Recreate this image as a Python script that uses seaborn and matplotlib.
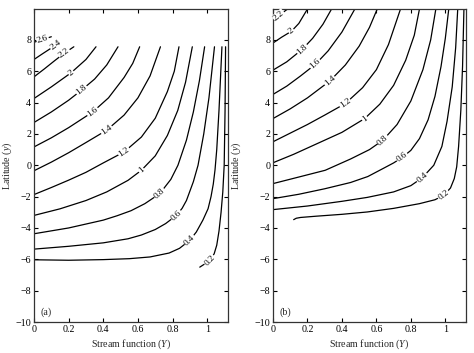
import numpy as np
import pandas as pd
import matplotlib
matplotlib.use("Agg")
import matplotlib.pyplot as plt
from matplotlib.ticker import FuncFormatter
import seaborn as sns

# ---------------- data ----------------
# Panel (a): contour lines, one x-list and one y-list per level
a_levels = [2.6, 2.4, 2.2, 2.0, 1.8, 1.6, 1.4, 1.2, 1.0, 0.8, 0.6, 0.4, 0.2]
a_x = [
    [0, 0.05, 0.1],
    [0, 0.05, 0.1, 0.14],
    [0, 0.06, 0.12, 0.175, 0.23],
    [0, 0.1, 0.214, 0.3, 0.358],
    [0, 0.1, 0.2, 0.275, 0.35, 0.42, 0.485],
    [0, 0.1, 0.2, 0.339, 0.43, 0.52, 0.57, 0.61],
    [0, 0.1, 0.2, 0.3, 0.42, 0.52, 0.6, 0.67, 0.73],
    [0, 0.1, 0.2, 0.3, 0.4, 0.52, 0.62, 0.7, 0.77, 0.81, 0.837],
    [0, 0.15, 0.3, 0.42, 0.543, 0.62, 0.7, 0.77, 0.83, 0.875, 0.914],
    [0, 0.2, 0.4, 0.48, 0.56, 0.64, 0.726, 0.79, 0.831, 0.88, 0.92, 0.955, 0.985],
    [0, 0.2, 0.4, 0.543, 0.62, 0.7, 0.76, 0.822, 0.855, 0.88, 0.92, 0.947, 0.98,
     1.01, 1.042],
    [0, 0.2, 0.4, 0.55, 0.67, 0.78, 0.84, 0.899, 0.937, 0.975, 1.005, 1.022,
     1.035, 1.045, 1.055, 1.068, 1.085],
    [0.957, 0.985, 1.014, 1.04, 1.055, 1.068, 1.08, 1.09, 1.098, 1.103, 1.106],
]
a_y = [
    [7.85, 8.02, 8.2],
    [6.75, 7.12, 7.48, 7.82],
    [5.64, 6.15, 6.68, 7.15, 7.56],
    [4.26, 5.0, 5.9, 6.75, 7.56],
    [2.73, 3.4, 4.15, 4.8, 5.5, 6.4, 7.56],
    [1.17, 1.75, 2.4, 3.4, 4.3, 5.6, 6.5, 7.56],
    [-0.35, 0.2, 0.8, 1.45, 2.24, 3.2, 4.3, 5.7, 7.56],
    [-1.87, -1.42, -0.95, -0.45, 0.15, 0.85, 1.8, 3.0, 4.7, 6.0, 7.56],
    [-3.2, -2.78, -2.25, -1.7, -0.96, -0.32, 0.6, 1.9, 3.5, 5.3, 7.56],
    [-4.37, -4.0, -3.5, -3.22, -2.9, -2.45, -1.81, -0.9, 0.0, 1.6, 3.4, 5.4, 7.56],
    [-5.35, -5.17, -4.95, -4.69, -4.45, -4.1, -3.72, -3.2, -2.75, -2.25, -1.05,
     0.0, 2.0, 4.3, 7.56],
    [-6.03, -6.06, -6.02, -5.96, -5.85, -5.6, -5.3, -4.79, -4.26, -3.5, -2.77,
     -2.0, -1.2, -0.3, 1.0, 3.5, 7.56],
    [-6.5, -6.3, -6.07, -5.65, -5.1, -4.2, -3.0, -1.7, 0.0, 3.5, 7.56],
]
a_lab_x = [0.05, 0.125, 0.175, 0.214, 0.275, 0.339, 0.42, 0.52, 0.62, 0.726, 0.822, 0.899, 1.014]
a_lab_y = [8.02, 7.68, 7.15, 5.9, 4.8, 3.4, 2.24, 0.85, -0.32, -1.81, -3.2, -4.79, -6.07]

# Panel (b)
b_levels = [2.2, 2.0, 1.8, 1.6, 1.4, 1.2, 1.0, 0.8, 0.6, 0.4, 0.2]
b_x = [
    [0, 0.035, 0.07, 0.085],
    [0, 0.05, 0.107, 0.15, 0.2],
    [0, 0.08, 0.17, 0.23, 0.29, 0.34],
    [0, 0.08, 0.16, 0.247, 0.32, 0.4, 0.475],
    [0, 0.1, 0.2, 0.33, 0.42, 0.5, 0.56, 0.605],
    [0, 0.1, 0.2, 0.3, 0.42, 0.52, 0.6, 0.67, 0.74],
    [0, 0.12, 0.25, 0.4, 0.532, 0.62, 0.7, 0.77, 0.82, 0.85],
    [0, 0.15, 0.303, 0.45, 0.56, 0.638, 0.72, 0.8, 0.87, 0.915, 0.945],
    [0, 0.15, 0.3, 0.45, 0.55, 0.64, 0.7, 0.75, 0.8, 0.85, 0.9, 0.94, 0.975,
     1.0, 1.02],
    [0, 0.2, 0.4, 0.547, 0.7, 0.8, 0.866, 0.933, 0.98, 1.01, 1.04, 1.06, 1.072],
    [0.12, 0.135, 0.16, 0.25, 0.4, 0.547, 0.7, 0.85, 0.94, 0.991, 1.03, 1.052,
     1.066, 1.077, 1.09, 1.1, 1.108],
]
b_y = [
    [9.2, 9.53, 9.85, 9.97],
    [7.8, 8.17, 8.55, 9.05, 9.97],
    [6.07, 6.6, 7.4, 8.1, 9.0, 9.97],
    [4.52, 5.05, 5.7, 6.45, 7.3, 8.5, 9.97],
    [2.98, 3.6, 4.3, 5.38, 6.4, 7.6, 8.8, 9.97],
    [1.5, 2.05, 2.6, 3.2, 3.94, 4.95, 6.1, 7.7, 9.97],
    [0.16, 0.7, 1.35, 2.1, 2.98, 3.9, 5.1, 6.7, 8.3, 9.97],
    [-1.17, -0.75, -0.32, 0.4, 1.0, 1.6, 2.6, 4.1, 6.1, 8.0, 9.97],
    [-2.13, -1.85, -1.5, -1.1, -0.72, -0.2, 0.15, 0.5, 0.95, 1.7, 2.9, 4.4, 6.3,
     8.1, 9.97],
    [-2.83, -2.6, -2.3, -2.05, -1.7, -1.3, -0.8, 0.0, 1.2, 2.8, 5.0, 7.5, 9.97],
    [-3.47, -3.38, -3.33, -3.25, -3.13, -2.98, -2.75, -2.45, -2.2, -1.92, -1.45,
     -0.85, -0.1, 1.2, 3.5, 6.3, 9.97],
]
b_lab_x = [0.035, 0.107, 0.17, 0.247, 0.33, 0.42, 0.532, 0.638, 0.75, 0.866, 0.991]
b_lab_y = [9.53, 8.55, 7.4, 6.45, 5.38, 3.94, 2.98, 1.6, 0.5, -0.8, -1.92]

x_ticks = [0, 0.2, 0.4, 0.6, 0.8, 1.0]
y_ticks = [-10, -8, -6, -4, -2, 0, 2, 4, 6, 8]
panel_tags = ["(a)", "(b)"]

# ---------------- style ----------------
sns.set_style("ticks")
plt.rcParams["font.family"] = ["Liberation Serif", "DejaVu Serif"]
plt.rcParams["mathtext.fontset"] = "custom"
plt.rcParams["mathtext.rm"] = "Liberation Serif"
plt.rcParams["mathtext.it"] = "Liberation Serif:italic"
plt.rcParams["axes.unicode_minus"] = True

fig = plt.figure(figsize=(4.74, 3.53), dpi=100)
ax_a = fig.add_axes([34 / 474, 31 / 353, 194 / 474, 313 / 353])
ax_b = fig.add_axes([273 / 474, 31 / 353, 193 / 474, 313 / 353])

fmt = FuncFormatter(lambda v, p: ("%g" % v).replace("-", "\u2212"))


def draw_panel(ax, levels, xs, ys, lab_x, lab_y, tag, ylab_x):
    rows = []
    for lev, xx, yy in zip(levels, xs, ys):
        for i, (px, py) in enumerate(zip(xx, yy)):
            rows.append({"x": px, "y": py, "level": lev, "order": i})
    df = pd.DataFrame(rows)
    sns.lineplot(data=df, x="x", y="y", units="level", estimator=None,
                 sort=False, color="black", lw=0.9, ax=ax, legend=False)
    ax.set_xlim(0, 1.12)
    ax.set_ylim(-10, 9.97)
    ax.set_xticks(x_ticks)
    ax.set_yticks(y_ticks)
    ax.xaxis.set_major_formatter(fmt)
    ax.yaxis.set_major_formatter(fmt)
    ax.tick_params(direction="in", length=3, width=0.8, top=True, right=True,
                   labelsize=7.2, pad=2, colors="black")
    for s in ax.spines.values():
        s.set_visible(True)
        s.set_linewidth(0.9)
        s.set_color("#333333")
    ax.set_xlabel("Stream function ($Y$)", fontsize=7.2)
    ax.set_ylabel("Latitude ($y$)", fontsize=7.2)
    ax.xaxis.set_label_coords(0.5, -0.048)
    ax.yaxis.set_label_coords(ylab_x, 0.5)
    # inline contour labels, rotated along the line
    for lev, xx, yy, lx, ly in zip(levels, xs, ys, lab_x, lab_y):
        pts = ax.transData.transform(np.column_stack([xx, yy]))
        lp = ax.transData.transform((lx, ly))
        d = np.hypot(pts[:, 0] - lp[0], pts[:, 1] - lp[1])
        i = int(np.argmin(d))
        i0, i1 = max(i - 1, 0), min(i + 1, len(xx) - 1)
        ang = np.degrees(np.arctan2(pts[i1, 1] - pts[i0, 1], pts[i1, 0] - pts[i0, 0]))
        if ang > 90:
            ang -= 180
        if ang < -90:
            ang += 180
        ax.text(lx, ly, "%g" % lev, rotation=ang, rotation_mode="anchor",
                ha="center", va="center", fontsize=6.6, color="black",
                bbox=dict(boxstyle="square,pad=0.08", fc="white", ec="none"),
                zorder=5, clip_on=False)
    ax.text(0.035, 0.03, tag, transform=ax.transAxes, ha="left", va="center",
            fontsize=7.2)


draw_panel(ax_a, a_levels, a_x, a_y, a_lab_x, a_lab_y, panel_tags[0], -0.105)
draw_panel(ax_b, b_levels, b_x, b_y, b_lab_x, b_lab_y, panel_tags[1], -0.155)

fig.savefig("out.png", dpi=100)
